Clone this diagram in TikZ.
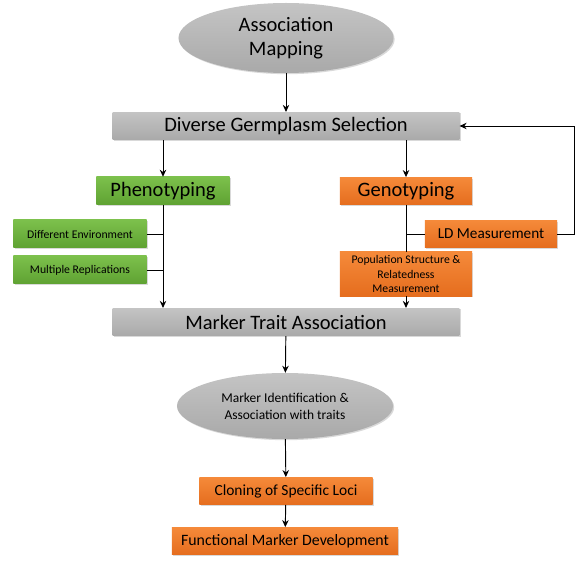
\documentclass[tikz,border=0pt]{standalone}
\usepackage{fontspec}
\setmainfont{Carlito}
\usepackage{xcolor}
\usetikzlibrary{arrows.meta,positioning,shapes.geometric,shadows}

\definecolor{grayA}{HTML}{C4C4C4}
\definecolor{grayB}{HTML}{A9A9A9}
\definecolor{greenA}{HTML}{7CC04C}
\definecolor{greenB}{HTML}{5FA232}
\definecolor{orangeA}{HTML}{F58A3A}
\definecolor{orangeB}{HTML}{E56D1E}

\begin{document}
\begin{tikzpicture}[
  x=0.03cm, y=-0.03cm,
  >={Stealth[length=6pt,width=5.5pt]},
  every node/.style={inner sep=1pt, align=center},
  grayoval/.style={ellipse, top color=grayA, bottom color=grayB, draw=none,
    drop shadow={shadow xshift=1pt, shadow yshift=-1pt, opacity=0.3}},
  graybar/.style={rectangle, top color=grayA, bottom color=grayB, draw=none,
    minimum width=10.4cm, minimum height=0.83cm,
    drop shadow={shadow xshift=1pt, shadow yshift=-1pt, opacity=0.3}},
  greenbox/.style={rectangle, top color=greenA, bottom color=greenB, draw=none,
    minimum width=4.0cm, minimum height=0.84cm,
    drop shadow={shadow xshift=1pt, shadow yshift=-1pt, opacity=0.3}},
  orangebox/.style={rectangle, top color=orangeA, bottom color=orangeB, draw=none,
    minimum width=3.97cm, minimum height=0.82cm,
    drop shadow={shadow xshift=1pt, shadow yshift=-1pt, opacity=0.3}},
  big/.style={font=\fontsize{17.5}{21}\selectfont},
  mid/.style={font=\fontsize{13}{15}\selectfont},
  small/.style={font=\fontsize{10}{12.5}\selectfont},
  flow/.style={->, thick, black},
  link/.style={thick, black},
]
\useasboundingbox (0,0) rectangle (583,568);

% main column
\node[grayoval, big, minimum width=6.45cm, minimum height=2.1cm] (amap) at (286,38) {Association\\Mapping};
\node[graybar, big] (germ) at (286,126) {Diverse Germplasm Selection};
\node[greenbox, big] (pheno) at (163,191) {Phenotyping};
\node[orangebox, big] (geno) at (406,191) {Genotyping};

% side boxes
\node[greenbox, small] (env) at (80,234) {Different Environment};
\node[greenbox, small] (rep) at (80,270) {Multiple Replications};
\node[orangebox, mid] (ld) at (491,234) {LD Measurement};
\node[orangebox, small, minimum height=1.32cm] (pop) at (406,274) {Population Structure \&\\Relatedness\\Measurement};

\node[graybar, big] (mta) at (286,322) {Marker Trait Association};
\node[grayoval, font=\fontsize{11.5}{14.5}\selectfont, minimum width=6.48cm, minimum height=1.98cm] (mid) at (285,406) {Marker Identification \&\\Association with traits};
\node[orangebox, mid, font=\fontsize{13.2}{15}\selectfont, minimum width=5.19cm] (clone) at (286,491) {Cloning of Specific Loci};
\node[orangebox, mid, font=\fontsize{13.5}{15}\selectfont, minimum width=6.78cm] (func) at (285,541) {Functional Marker Development};

% connectors
\draw[flow] (amap) -- (germ);
\draw[flow] (germ.south -| pheno) -- (pheno);
\draw[flow] (germ.south -| geno) -- (geno);
\draw[flow] (pheno) -- (mta.north -| pheno);
\draw[link] (env) -- (env -| pheno);
\draw[link] (rep) -- (rep -| pheno);
\draw[link] (geno) -- (pop);
\draw[link] (ld) -- (ld -| geno);
\coordinate (ldturn) at (574,234);
\draw[flow] (ld) -- (ldturn) |- (germ);
\draw[flow] (pop) -- (mta.north -| pop);
\draw[flow] (mta) -- (mid);
\draw[flow] (mid) -- (clone);
\draw[flow] (clone) -- (func);
\end{tikzpicture}
\end{document}
